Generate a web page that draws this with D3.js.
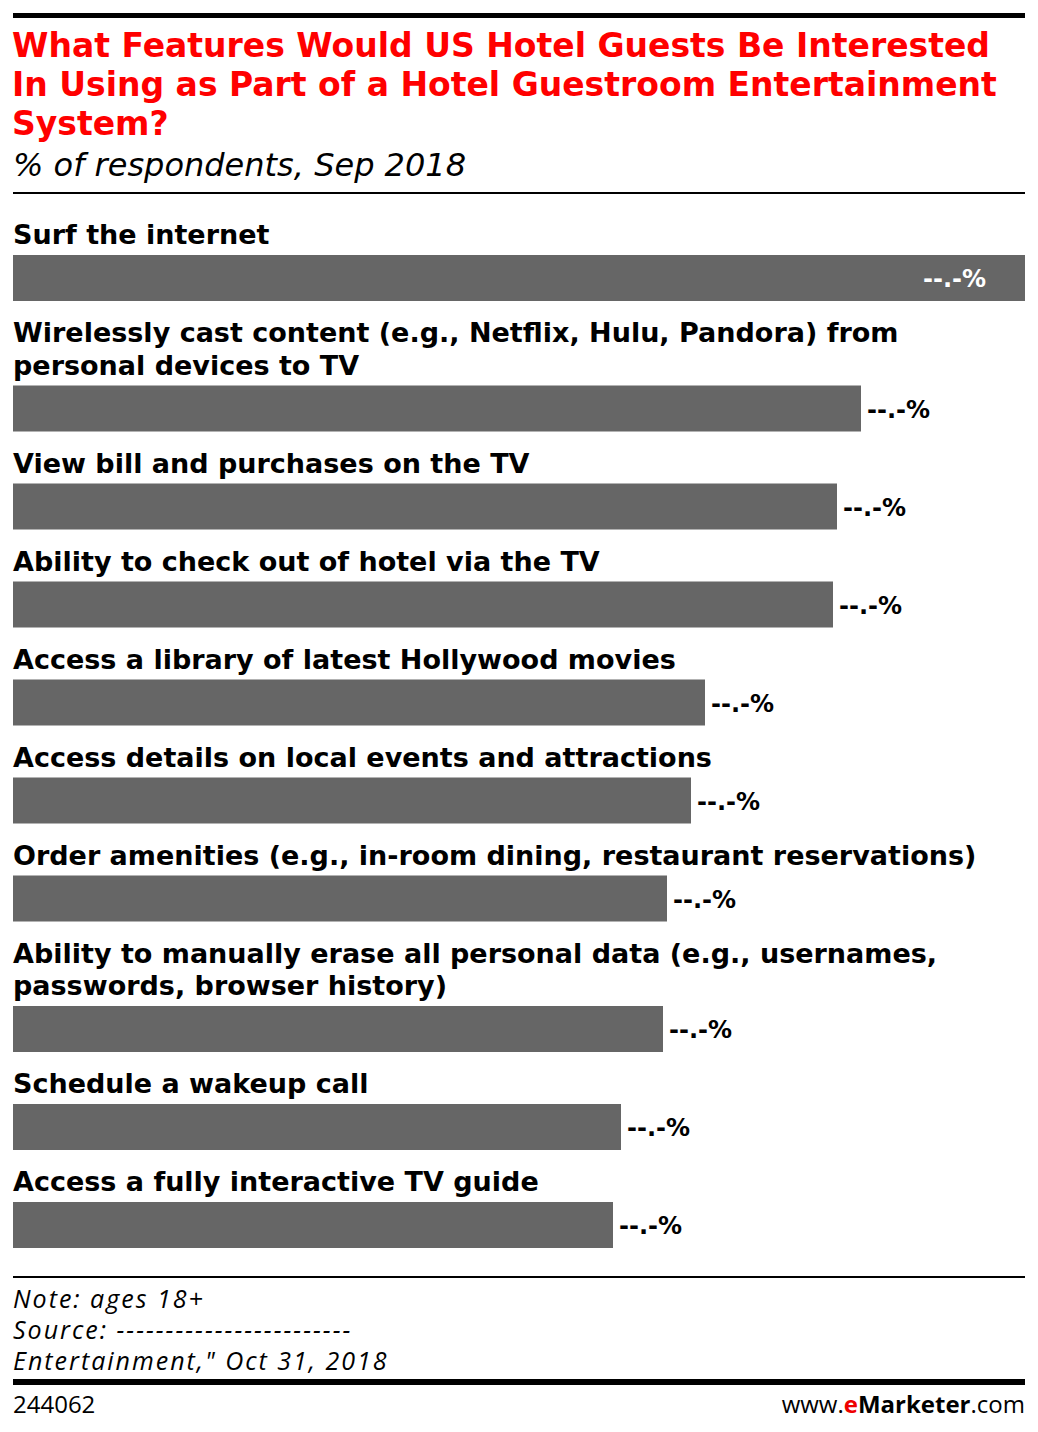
<!DOCTYPE html>
<html lang="en">
<head>
    <meta charset="UTF-8">
    <title>Hotel Guestroom Entertainment</title>
    <script src="https://d3js.org/d3.v7.min.js"></script>
    <style>
        body {
            margin: 0;
            padding: 0;
            background: #fff;
        }
        .title { font-family: 'DejaVu Sans', sans-serif; font-weight: bold; font-size: 33px; fill: #ff0000; }
        .subtitle { font-family: 'DejaVu Sans', sans-serif; font-style: italic; font-size: 32px; fill: #000; }
        .cat { font-family: 'DejaVu Sans', sans-serif; font-weight: bold; font-size: 27px; fill: #000; }
        .val { font-family: 'DejaVu Sans', sans-serif; font-weight: bold; font-size: 24px; }
        .note { font-family: 'Open Sans', sans-serif; font-style: italic; font-size: 25px; letter-spacing: 2px; fill: #000; }
        .foot { font-family: 'Open Sans', sans-serif; font-size: 24px; fill: #000; }
    </style>
</head>
<body>
    <svg width="1038" height="1432"></svg>

    <script>
        // category labels (line breaks as in the chart)
        var categories = [
            ["Surf the internet"],
            ["Wirelessly cast content (e.g., Netflix, Hulu, Pandora) from", "personal devices to TV"],
            ["View bill and purchases on the TV"],
            ["Ability to check out of hotel via the TV"],
            ["Access a library of latest Hollywood movies"],
            ["Access details on local events and attractions"],
            ["Order amenities (e.g., in-room dining, restaurant reservations)"],
            ["Ability to manually erase all personal data (e.g., usernames,", "passwords, browser history)"],
            ["Schedule a wakeup call"],
            ["Access a fully interactive TV guide"]
        ];
        // % of respondents (labels are masked in the source)
        var values = [50.6, 42.4, 41.2, 41.0, 34.6, 33.9, 32.7, 32.5, 30.4, 30.0];
        var valueLabels = ["--.-%", "--.-%", "--.-%", "--.-%", "--.-%", "--.-%", "--.-%", "--.-%", "--.-%", "--.-%"];

        var titleLines = [
            "What Features Would US Hotel Guests Be Interested",
            "In Using as Part of a Hotel Guestroom Entertainment",
            "System?"
        ];
        var subtitle = "% of respondents, Sep 2018";
        var noteLines = ["Note: ages 18+", "Source: ------------------------", "Entertainment,\" Oct 31, 2018"];

        var svg = d3.select("svg");
        var left = 13, right = 1025;

        // header
        svg.append("rect").attr("x", left).attr("y", 13).attr("width", right - left).attr("height", 5).attr("fill", "#000");
        svg.selectAll(".title")
            .data(titleLines)
            .enter().append("text")
            .attr("class", "title")
            .attr("x", left - 1)
            .attr("y", function(d, i) { return 57 + i * 39; })
            .text(function(d) { return d; });
        svg.append("text").attr("class", "subtitle").attr("x", left).attr("y", 176).text(subtitle);
        svg.append("rect").attr("x", left).attr("y", 192).attr("width", right - left).attr("height", 2).attr("fill", "#000");

        // bars
        var x = d3.scaleLinear()
            .domain([0, d3.max(values)])
            .range([left, right]);

        var barH = 46, lineH = 32.5;
        var rows = [];
        var cursor = 244; // baseline of first label
        categories.forEach(function(c, i) {
            var barTop = cursor + (c.length - 1) * lineH + 11;
            rows.push({ lines: c, base: cursor, barTop: barTop, value: values[i], label: valueLabels[i] });
            cursor = barTop + barH + 41;
        });

        var row = svg.selectAll(".row")
            .data(rows)
            .enter().append("g")
            .attr("class", "row");

        row.each(function(d) {
            var g = d3.select(this);
            d.lines.forEach(function(l, j) {
                g.append("text")
                    .attr("class", "cat")
                    .attr("x", left)
                    .attr("y", d.base + j * lineH)
                    .text(l);
            });
        });

        row.append("rect")
            .attr("x", left)
            .attr("y", function(d) { return d.barTop; })
            .attr("width", function(d) { return x(d.value) - left; })
            .attr("height", barH)
            .attr("fill", "#666666");

        row.append("text")
            .attr("class", "val")
            .attr("y", function(d) { return d.barTop + 32; })
            .attr("x", function(d, i) { return i === 0 ? x(d.value) - 39 : x(d.value) + 6; })
            .attr("text-anchor", function(d, i) { return i === 0 ? "end" : "start"; })
            .attr("fill", function(d, i) { return i === 0 ? "#fff" : "#000"; })
            .text(function(d) { return d.label; });

        // footer
        svg.append("rect").attr("x", left).attr("y", 1276).attr("width", right - left).attr("height", 2).attr("fill", "#000");
        svg.selectAll(".note")
            .data(noteLines)
            .enter().append("text")
            .attr("class", "note")
            .attr("x", left)
            .attr("y", function(d, i) { return 1308 + i * 31; })
            .text(function(d) { return d; });
        svg.append("rect").attr("x", left).attr("y", 1379).attr("width", right - left).attr("height", 6).attr("fill", "#000");
        svg.append("text").attr("class", "foot").attr("x", left).attr("y", 1413).text("244062");
        var brand = svg.append("text").attr("class", "foot").attr("x", right).attr("y", 1413).attr("text-anchor", "end");
        brand.append("tspan").text("www.");
        brand.append("tspan").attr("fill", "#e00").attr("font-weight", "bold").text("e");
        brand.append("tspan").attr("font-weight", "bold").text("Marketer");
        brand.append("tspan").text(".com");
    </script>
</body>
</html>
